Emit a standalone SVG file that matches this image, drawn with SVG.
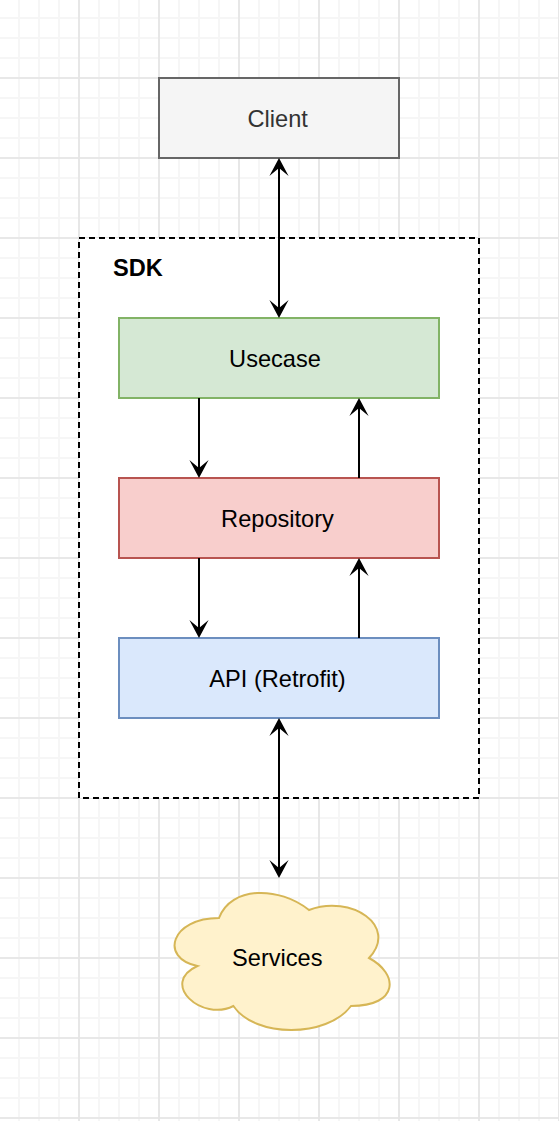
<svg xmlns="http://www.w3.org/2000/svg" width="559" height="1121" viewBox="0 0 559 1121">
<style>
  text { font-family: "Liberation Sans", Arial, Helvetica, sans-serif; font-size: 23.6px; fill: #000000; text-anchor: middle; }
  .minor { stroke: #f6f6f6; stroke-width: 2; }
  .major { stroke: #e4e4e4; stroke-width: 1.6; }
  .box { stroke-width: 2; }
  .edge { stroke: #000000; stroke-width: 2; fill: none; }
</style>
<defs>
  <pattern id="gridMinor" x="18" y="17" width="20" height="20" patternUnits="userSpaceOnUse">
    <path d="M1,0 V20 M0,1 H20" class="minor" fill="none"/>
  </pattern>
  <pattern id="gridMajor" x="78" y="77" width="80" height="80" patternUnits="userSpaceOnUse">
    <path d="M1,0 V80 M0,1 H80" class="major" fill="none"/>
  </pattern>
  <marker id="arrow" markerUnits="userSpaceOnUse" viewBox="-10 -11 22 22" refX="0" refY="0" markerWidth="22" markerHeight="22" orient="auto-start-reverse" overflow="visible">
    <path d="M10,0 L-8,-9.6 L0,0 L-8,9.6 Z" fill="#000000"/>
  </marker>
</defs>
<rect x="0" y="0" width="559" height="1121" fill="#ffffff"/>
<rect x="0" y="0" width="559" height="1121" fill="url(#gridMinor)"/>
<rect x="0" y="0" width="559" height="1121" fill="url(#gridMajor)"/>

<g id="sdk">
  <rect x="79" y="238" width="400" height="560" fill="#ffffff" stroke="#000000" stroke-width="2" stroke-dasharray="6 4"/>
  <text x="113" y="276" style="text-anchor:start;font-weight:bold;">SDK</text>
</g>

<g id="client">
  <rect class="box" x="159" y="78" width="240" height="80" fill="#f5f5f5" stroke="#666666"/>
  <text x="277.7" y="126.5" style="fill:#333333">Client</text>
</g>

<g id="usecase">
  <rect class="box" x="119" y="318" width="320" height="80" fill="#d5e8d4" stroke="#82b366"/>
  <text x="275" y="366.5">Usecase</text>
</g>

<g id="repository">
  <rect class="box" x="119" y="478" width="320" height="80" fill="#f8cecc" stroke="#b85450"/>
  <text x="277.5" y="526.5">Repository</text>
</g>

<g id="api">
  <rect class="box" x="119" y="638" width="320" height="80" fill="#dae8fc" stroke="#6c8ebf"/>
  <text x="277.5" y="686.5">API (Retrofit)</text>
</g>

<g id="services">
  <path class="box" fill="#fff2cc" stroke="#d6b656" d="M219,918 C171,918 159,958 197.4,966 C159,983.6 202.2,1022 233.4,1006 C255,1038 327,1038 351,1006 C399,1006 399,974 369,958 C399,926 351,894 309,910 C279,886 231,886 219,918 Z"/>
  <text x="277.3" y="966">Services</text>
</g>

<g id="connectors">
  <line class="edge" x1="279" y1="168" x2="279" y2="308" marker-start="url(#arrow)" marker-end="url(#arrow)"/>
  <line class="edge" x1="199" y1="398" x2="199" y2="468" marker-end="url(#arrow)"/>
  <line class="edge" x1="359" y1="478" x2="359" y2="408" marker-end="url(#arrow)"/>
  <line class="edge" x1="199" y1="558" x2="199" y2="628" marker-end="url(#arrow)"/>
  <line class="edge" x1="359" y1="638" x2="359" y2="568" marker-end="url(#arrow)"/>
  <line class="edge" x1="279" y1="728" x2="279" y2="868" marker-start="url(#arrow)" marker-end="url(#arrow)"/>
</g>
</svg>
